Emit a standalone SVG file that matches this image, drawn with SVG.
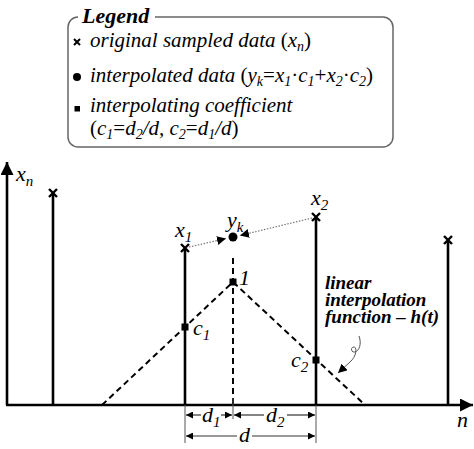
<svg xmlns="http://www.w3.org/2000/svg" width="474" height="449" viewBox="0 0 474 449">
<style>
text{font-style:italic;fill:#000}
.lg{font-size:21px}
.lb{font-size:22px}
.bi{font-weight:bold}
.n{font-style:normal}
.stem{stroke:#000;stroke-width:2.6;fill:none}
.cross{stroke:#000;stroke-width:2.4;fill:none}
.dash{stroke:#000;stroke-width:2;stroke-dasharray:6,4;fill:none}
.dot{stroke:#777;stroke-width:1.2;stroke-dasharray:1.5,1.5;fill:none}
.thin{stroke:#555;stroke-width:1;fill:none}
.dim{stroke:#333;stroke-width:1.2;fill:none}
</style>
<defs>
<marker id="ah" viewBox="0 0 10 10" refX="10" refY="5" markerWidth="9" markerHeight="9" markerUnits="userSpaceOnUse" orient="auto"><path d="M0,0 L10,5 L0,10 Z" fill="#000"/></marker>
<marker id="ahs" viewBox="0 0 10 10" refX="10" refY="5" markerWidth="7" markerHeight="7" markerUnits="userSpaceOnUse" orient="auto-start-reverse"><path d="M0,0 L10,5 L0,10 Z" fill="#000"/></marker>
<marker id="axh" viewBox="0 0 10 10" refX="10" refY="5" markerWidth="14" markerHeight="13" markerUnits="userSpaceOnUse" orient="auto"><path d="M0,0 L10,5 L0,10 Z" fill="#000"/></marker>
</defs>
<g id="legend">
<path d="M155,17 H383 A10,10 0 0 1 393,27 V137 A10,10 0 0 1 383,147 H78 A10,10 0 0 1 68,137 V27 A10,10 0 0 1 78,17" fill="none" stroke="#666" stroke-width="1.5"/>
<text x="82" y="23" class="lb bi" font-family="Liberation Serif">Legend</text>
<path d="M74,39 L80,45 M80,39 L74,45" stroke="#000" stroke-width="2" fill="none"/>
<text x="90" y="47" class="lg" font-family="Liberation Serif">original sampled data <tspan class="n">(</tspan>x<tspan dy="4" font-size="14">n</tspan><tspan dy="-4" class="n">)</tspan></text>
<circle cx="77" cy="77" r="4" fill="#000"/>
<text x="90" y="82" class="lg" font-family="Liberation Serif">interpolated data <tspan class="n">(</tspan>y<tspan dy="4" font-size="14">k</tspan><tspan dy="-4" class="n">=</tspan>x<tspan dy="4" font-size="14">1</tspan><tspan dy="-4" class="n">·</tspan>c<tspan dy="4" font-size="14">1</tspan><tspan dy="-4" class="n">+</tspan>x<tspan dy="4" font-size="14">2</tspan><tspan dy="-4" class="n">·</tspan>c<tspan dy="4" font-size="14">2</tspan><tspan dy="-4" class="n">)</tspan></text>
<rect x="74.5" y="106" width="5.5" height="5.5" fill="#000"/>
<text x="90" y="112" class="lg" font-family="Liberation Serif">interpolating coefficient</text>
<text x="90" y="135" class="lg" font-family="Liberation Serif"><tspan class="n">(</tspan>c<tspan dy="4" font-size="14">1</tspan><tspan dy="-4" class="n">=</tspan>d<tspan dy="4" font-size="14">2</tspan><tspan dy="-4">/d, c</tspan><tspan dy="4" font-size="14">2</tspan><tspan dy="-4" class="n">=</tspan>d<tspan dy="4" font-size="14">1</tspan><tspan dy="-4">/d</tspan><tspan class="n">)</tspan></text>
</g>

<g id="axes">
<line x1="7" y1="405" x2="7" y2="162" class="stem" marker-end="url(#axh)"/>
<line x1="6" y1="405" x2="473" y2="405" class="stem" marker-end="url(#axh)"/>
<text x="16" y="181" class="lb" font-family="Liberation Serif">x<tspan dy="5" font-size="15">n</tspan></text>
<text x="457" y="427" class="lb" font-family="Liberation Serif">n</text>
</g>

<g id="sample-0">
<line x1="53" y1="193" x2="53" y2="405" class="stem"/>
<path d="M49,189 L57,197 M57,189 L49,197" class="cross"/>
</g>
<g id="sample-x1">
<line x1="185" y1="248" x2="185" y2="405" class="stem"/>
<path d="M181,244 L189,252 M189,244 L181,252" class="cross"/>
<text x="175" y="237" class="lb" font-family="Liberation Serif">x<tspan dy="5" font-size="15">1</tspan></text>
</g>
<g id="sample-x2">
<line x1="316" y1="217" x2="316" y2="405" class="stem"/>
<path d="M312,213 L320,221 M320,213 L312,221" class="cross"/>
<text x="311" y="205" class="lb" font-family="Liberation Serif">x<tspan dy="5" font-size="15">2</tspan></text>
</g>
<g id="sample-3">
<line x1="448" y1="240" x2="448" y2="405" class="stem"/>
<path d="M444,236 L452,244 M452,236 L444,244" class="cross"/>
</g>
<g id="yk">
<circle cx="233" cy="237" r="4.5" fill="#000"/>
<text x="227" y="227" class="lb" font-family="Liberation Serif">y<tspan dy="5" font-size="15">k</tspan></text>
</g>
<g id="interp">
<path d="M233,258 V405" class="dash"/>
<path d="M102,405 L233,282 L365,405" class="dash"/>
<rect x="229.5" y="278.5" width="7" height="7" fill="#000"/>
<text x="239" y="285" class="lb" font-family="Liberation Serif">1</text>
<rect x="181.5" y="323.5" width="7" height="7" fill="#000"/>
<text x="193" y="335" class="lb" font-family="Liberation Serif">c<tspan dy="5" font-size="15">1</tspan></text>
<rect x="312.5" y="356.5" width="7" height="7" fill="#000"/>
<text x="291" y="367" class="lb" font-family="Liberation Serif">c<tspan dy="5" font-size="15">2</tspan></text>
</g>
<g id="label-h">
<text x="325" y="289" font-size="19" class="bi" font-family="Liberation Serif"><tspan x="325">linear</tspan><tspan x="325" dy="17">interpolation</tspan><tspan x="325" dy="17">function – h(t)</tspan></text>
</g>

<g id="connectors">
<line x1="189" y1="247" x2="226" y2="238.5" class="dot" marker-end="url(#ah)"/>
<line x1="312" y1="218" x2="240" y2="235.5" class="dot" marker-end="url(#ah)"/>
<path d="M359,336 C362,344 359,351 355,352 C351,353 350,347 354,347 C357,347 357,356 350,362 L338,373" class="thin" marker-end="url(#ah)"/>
<line x1="185" y1="405" x2="185" y2="443" class="thin"/>
<line x1="316" y1="405" x2="316" y2="443" class="thin"/>
<line x1="233" y1="398" x2="233" y2="419" class="thin"/>
<line x1="186" y1="415" x2="201" y2="415" class="dim" marker-start="url(#ahs)"/>
<line x1="221" y1="415" x2="232" y2="415" class="dim" marker-end="url(#ahs)"/>
<line x1="234" y1="415" x2="264" y2="415" class="dim" marker-start="url(#ahs)"/>
<line x1="287" y1="415" x2="315" y2="415" class="dim" marker-end="url(#ahs)"/>
<line x1="186" y1="436" x2="237" y2="436" class="dim" marker-start="url(#ahs)"/>
<line x1="252" y1="436" x2="315" y2="436" class="dim" marker-end="url(#ahs)"/>
<text x="202" y="422" class="lb" font-family="Liberation Serif">d<tspan dy="5" font-size="15">1</tspan></text>
<text x="266" y="422" class="lb" font-family="Liberation Serif">d<tspan dy="5" font-size="15">2</tspan></text>
<text x="239" y="442" class="lb" font-family="Liberation Serif">d</text>
</g>
</svg>
